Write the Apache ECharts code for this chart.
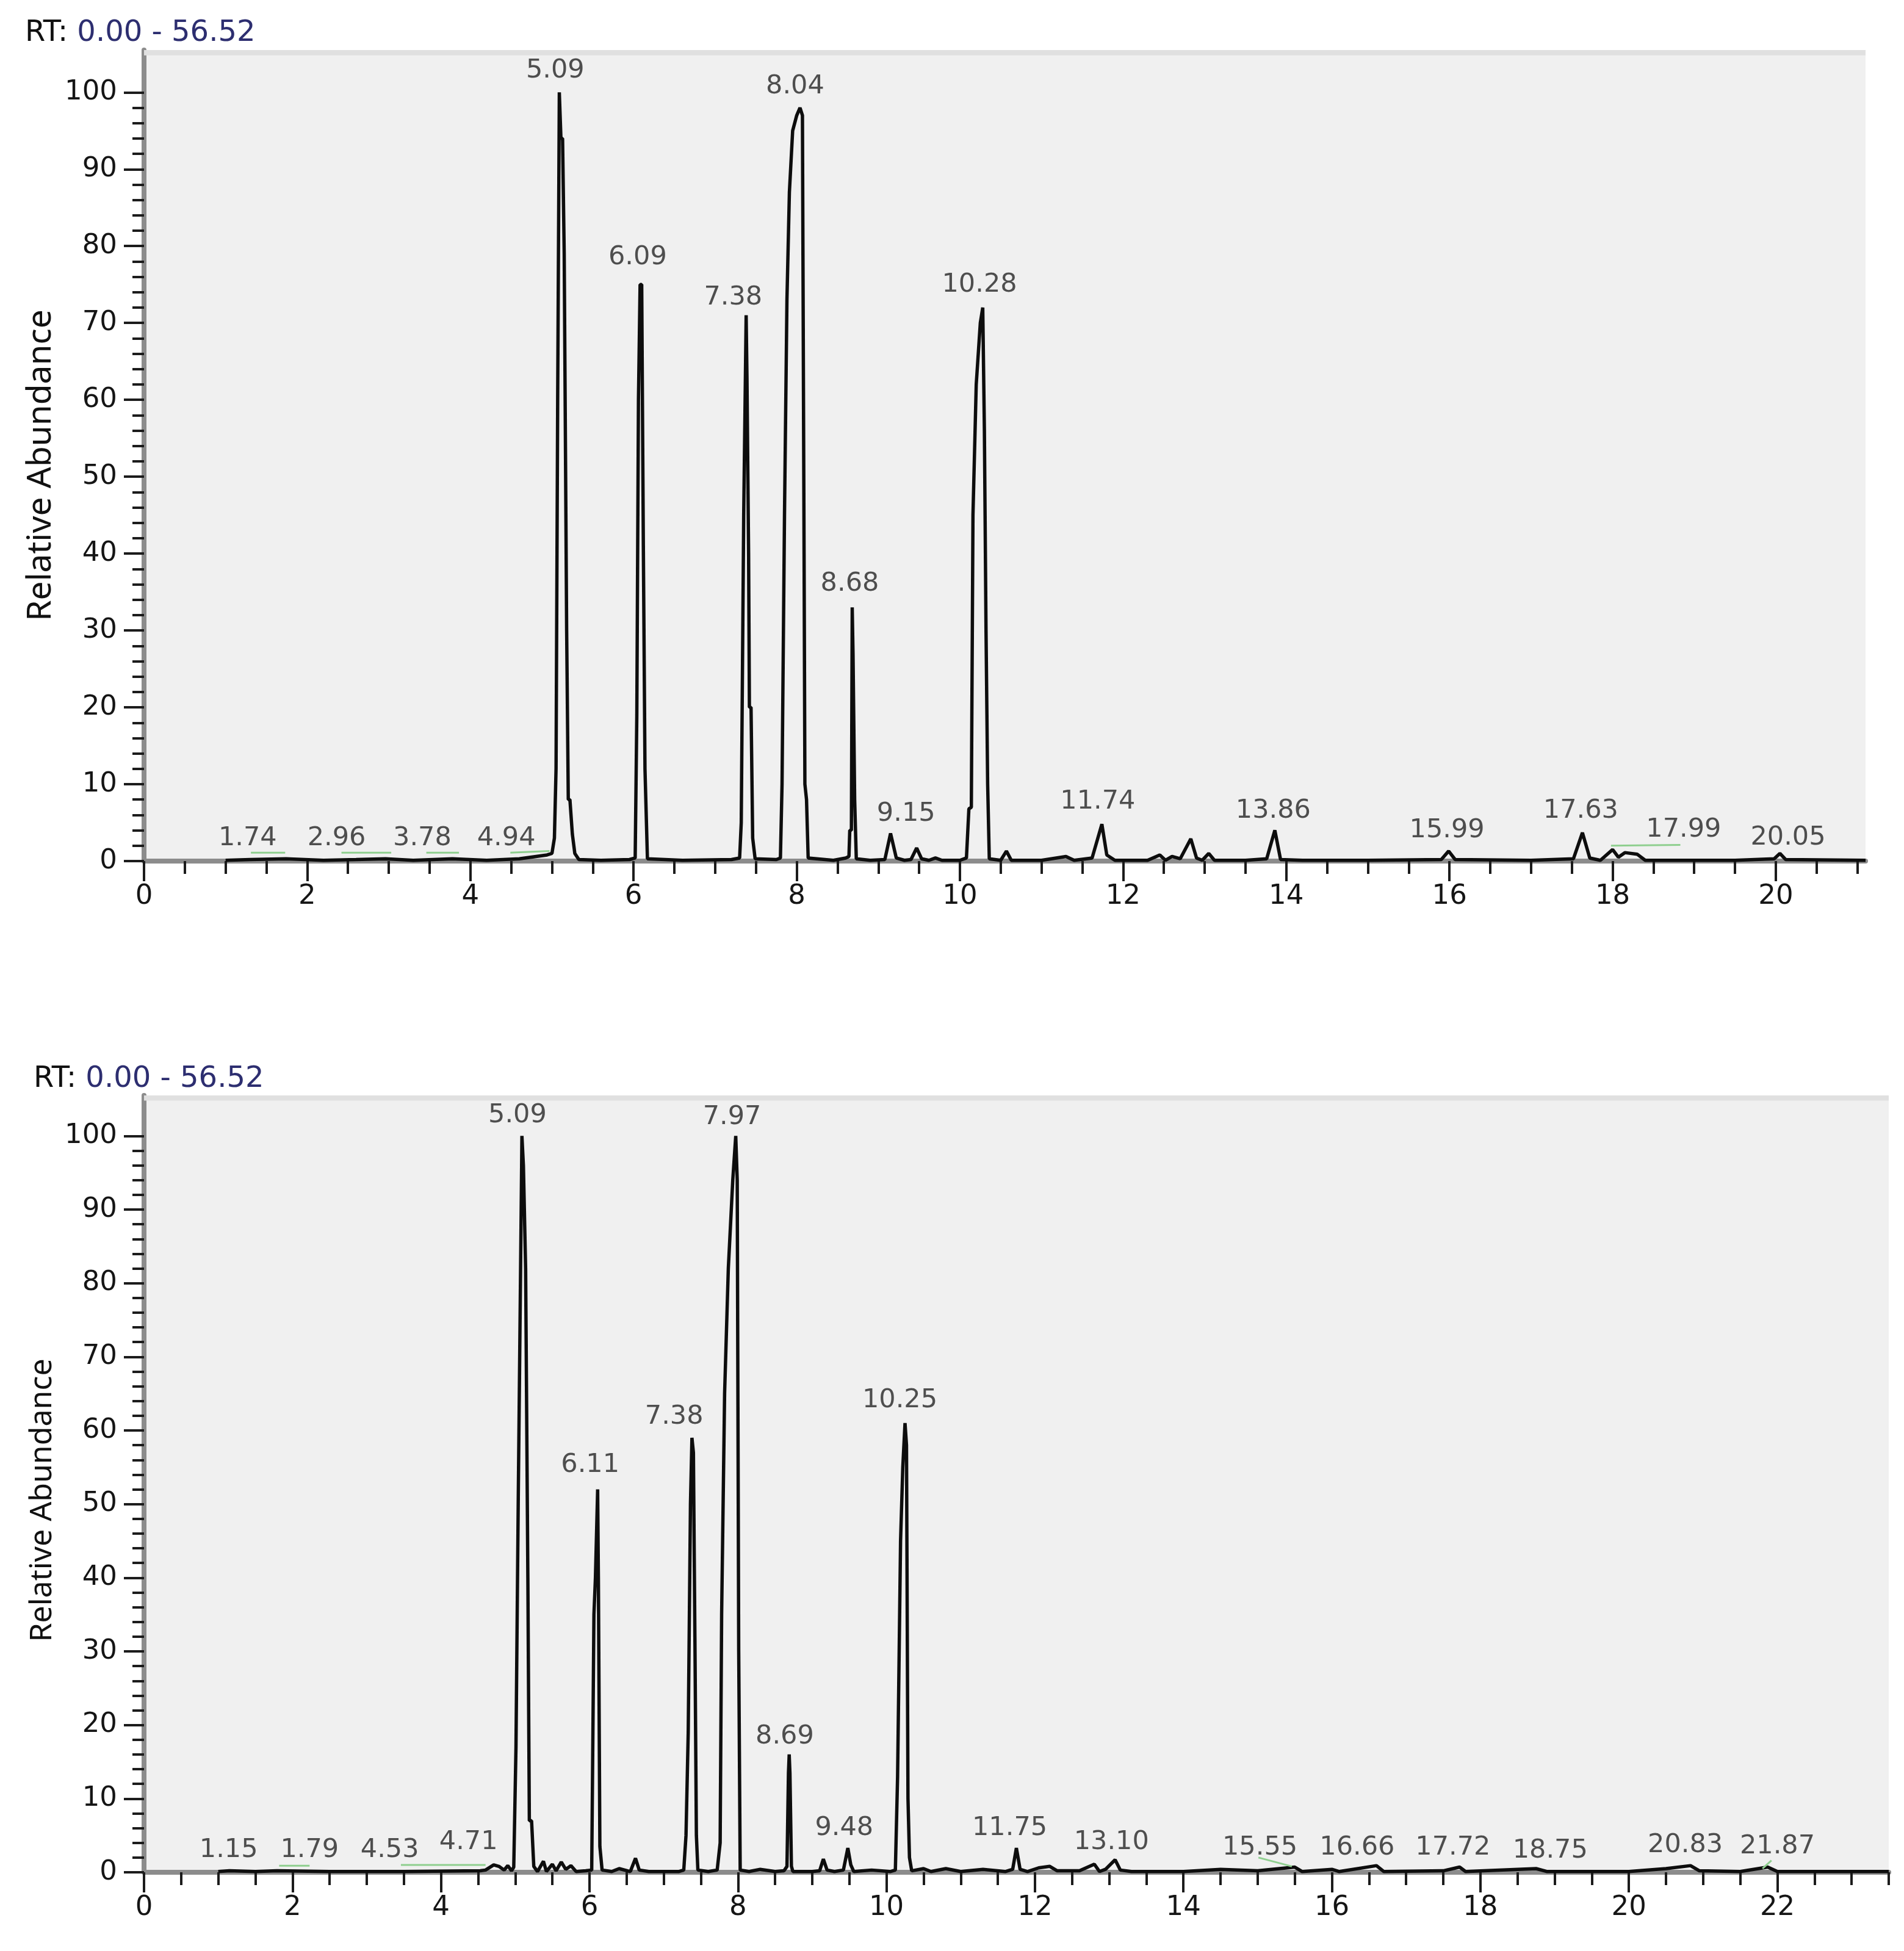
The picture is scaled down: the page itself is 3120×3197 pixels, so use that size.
<!DOCTYPE html>
<html>
<head>
<meta charset="utf-8">
<script src="https://cdn.jsdelivr.net/npm/echarts@6/dist/echarts.min.js"></script>
<style>
html,body{margin:0;padding:0;background:#ffffff;}
#chart{width:3120px;height:3197px;}
</style>
</head>
<body>
<div id="chart"></div>
<script>
// ---------------- data ----------------
const rtLabel = 'RT:';
const rtRange = '0.00 - 56.52';
const yAxisTitle = 'Relative Abundance';

const yTickValues = [0, 10, 20, 30, 40, 50, 60, 70, 80, 90, 100];
const yMinorTickValues = [2,4,6,8,12,14,16,18,22,24,26,28,32,34,36,38,42,44,46,48,52,54,56,58,62,64,66,68,72,74,76,78,82,84,86,88,92,94,96,98];

const topXTickValues = [0, 2, 4, 6, 8, 10, 12, 14, 16, 18, 20];
const topXMinorTickValues = [0.5,1,1.5,2.5,3,3.5,4.5,5,5.5,6.5,7,7.5,8.5,9,9.5,10.5,11,11.5,12.5,13,13.5,14.5,15,15.5,16.5,17,17.5,18.5,19,19.5,20.5,21];
const bottomXTickValues = [0, 2, 4, 6, 8, 10, 12, 14, 16, 18, 20, 22];
const bottomXMinorTickValues = [0.5,1,1.5,2.5,3,3.5,4.5,5,5.5,6.5,7,7.5,8.5,9,9.5,10.5,11,11.5,12.5,13,13.5,14.5,15,15.5,16.5,17,17.5,18.5,19,19.5,20.5,21,21.5,22.5,23,23.5];

// chromatogram traces: [retention time (min), relative abundance (%)]
const topTrace = [
  [1.00,0.1],[1.30,0.2],[1.74,0.3],[2.20,0.1],[2.60,0.2],[2.96,0.3],[3.30,0.1],[3.78,0.3],[4.20,0.1],[4.60,0.3],[4.94,0.8],[5.00,1.0],
  [5.03,3],[5.05,12],[5.07,60],[5.09,100],[5.11,94],[5.13,94],[5.15,79],[5.18,30],[5.20,8],[5.22,8],[5.25,3.5],[5.28,1.0],[5.33,0.2],
  [5.60,0.1],[5.95,0.2],
  [6.02,0.4],[6.04,19],[6.06,60],[6.08,75],[6.10,75],[6.12,41],[6.14,12],[6.17,0.3],
  [6.60,0.1],[7.20,0.2],
  [7.30,0.4],[7.32,5],[7.35,45],[7.38,71],[7.39,63],[7.41,40],[7.42,20],[7.44,20],[7.46,3],[7.49,0.3],
  [7.75,0.2],
  [7.80,0.4],[7.82,10],[7.85,45],[7.88,73],[7.91,87],[7.95,95],[8.00,97],[8.04,98],[8.07,97],[8.09,40],[8.10,10],[8.12,8],[8.14,0.4],
  [8.45,0.1],[8.60,0.4],
  [8.64,0.6],[8.65,4],[8.67,4],[8.68,33],[8.69,27],[8.71,8],[8.73,0.3],
  [8.90,0.1],[9.08,0.2],[9.15,3.6],[9.22,0.4],[9.32,0.1],[9.40,0.2],[9.47,1.7],[9.53,0.3],[9.62,0.1],[9.70,0.4],[9.78,0.1],
  [10.00,0.1],[10.08,0.4],
  [10.11,6.8],[10.14,7],[10.16,45],[10.20,62],[10.25,70],[10.28,72],[10.30,56],[10.32,30],[10.34,10],[10.36,0.3],
  [10.50,0.1],[10.57,1.3],[10.63,0.1],[11.00,0.1],[11.30,0.6],[11.40,0.1],[11.62,0.4],[11.74,4.8],[11.80,0.8],[11.90,0.1],[12.30,0.1],
  [12.45,0.8],[12.52,0.1],[12.60,0.6],[12.70,0.3],[12.83,2.9],[12.90,0.4],[12.97,0.1],[13.05,1.0],[13.12,0.1],[13.50,0.1],[13.76,0.3],[13.86,4.0],[13.93,0.2],
  [14.20,0.1],[15.00,0.1],[15.90,0.2],[15.99,1.3],[16.07,0.2],[17.00,0.1],[17.52,0.3],[17.63,3.7],[17.72,0.4],[17.85,0.1],
  [18.00,1.5],[18.07,0.5],[18.15,1.1],[18.30,0.9],[18.40,0.1],[19.50,0.1],[19.98,0.3],[20.05,1.0],[20.12,0.2],[21.10,0.1]
];

const bottomTrace = [
  [1.00,0.1],[1.15,0.2],[1.50,0.1],[1.79,0.2],[2.50,0.1],[3.50,0.1],[4.53,0.2],[4.60,0.3],[4.71,1.0],[4.78,0.8],[4.85,0.3],[4.90,0.9],[4.95,0.2],[4.98,0.7],
  [5.01,17],[5.04,50],[5.09,100],[5.11,96],[5.14,82],[5.17,40],[5.19,7],[5.22,7],[5.25,0.8],
  [5.30,0.1],[5.38,1.5],[5.42,0.1],[5.50,1.1],[5.55,0.2],[5.62,1.4],[5.68,0.4],[5.75,0.9],[5.82,0.1],[5.95,0.2],
  [6.03,0.3],[6.06,35],[6.08,40],[6.11,52],[6.12,40],[6.14,3.5],[6.17,0.3],
  [6.30,0.1],[6.40,0.5],[6.55,0.1],[6.62,1.9],[6.67,0.3],[6.80,0.1],[7.20,0.1],[7.27,0.3],
  [7.30,5],[7.33,19],[7.36,50],[7.38,59],[7.40,57],[7.42,32],[7.44,5],[7.46,0.3],
  [7.60,0.1],[7.72,0.3],
  [7.76,4],[7.78,35],[7.82,65],[7.87,82],[7.93,94],[7.97,100],[7.99,94],[8.01,30],[8.03,0.3],
  [8.15,0.1],[8.30,0.4],[8.50,0.1],[8.62,0.2],
  [8.66,0.8],[8.68,13.5],[8.69,16],[8.70,13.5],[8.72,0.8],[8.74,0.1],
  [9.00,0.1],[9.10,0.2],[9.15,1.8],[9.20,0.3],[9.30,0.1],[9.42,0.3],[9.48,3.3],[9.52,1.0],[9.56,0.1],[9.80,0.3],[10.05,0.1],[10.12,0.3],
  [10.15,13],[10.19,45],[10.22,55],[10.25,61],[10.27,58],[10.29,10],[10.31,2],[10.34,0.2],
  [10.50,0.5],[10.60,0.1],[10.80,0.5],[11.00,0.1],[11.30,0.4],[11.60,0.1],[11.70,0.4],[11.75,3.3],[11.80,0.4],[11.90,0.1],
  [12.05,0.6],[12.20,0.8],[12.30,0.2],[12.60,0.2],[12.80,1.1],[12.87,0.1],[12.95,0.4],[13.08,1.7],[13.15,0.3],[13.30,0.1],
  [14.00,0.1],[14.50,0.4],[15.00,0.2],[15.50,0.7],[15.60,0.1],[16.00,0.4],[16.10,0.1],[16.60,0.9],[16.70,0.1],[17.50,0.2],
  [17.72,0.7],[17.80,0.1],[18.75,0.5],[18.90,0.1],[20.00,0.1],[20.50,0.5],[20.83,0.9],[20.95,0.2],[21.50,0.1],[21.87,0.7],[22.00,0.1],[23.50,0.1]
];

// peak labels: [text, label centre (min), label foot (%)]
const topPeakLabels = [
  ['5.09',5.04,101.7],['8.04',7.98,99.6],['6.09',6.05,77.4],['7.38',7.22,72.1],['10.28',10.24,73.8],
  ['8.68',8.65,34.9],['9.15',9.34,5.0],['11.74',11.69,6.6],['13.86',13.84,5.4],['15.99',15.97,2.8],
  ['17.63',17.61,5.4],['17.99',18.87,2.9],['20.05',20.15,1.9],
  ['1.74',1.27,1.8],['2.96',2.36,1.8],['3.78',3.41,1.8],['4.94',4.44,1.8]
];
const bottomPeakLabels = [
  ['5.09',5.03,101.6],['7.97',7.92,101.3],['10.25',10.18,62.9],['7.38',7.14,60.6],['6.11',6.01,54.1],
  ['8.69',8.63,17.2],['9.48',9.43,4.8],['1.15',1.14,1.8],['1.79',2.23,1.8],['4.53',3.31,1.8],['4.71',4.37,2.9],
  ['11.75',11.66,4.8],['13.10',13.03,2.9],['15.55',15.03,2.1],['16.66',16.34,2.1],['17.72',17.63,2.1],
  ['18.75',18.94,1.7],['20.83',20.76,2.5],['21.87',22.00,2.3]
];

// green integration baselines
const topBaselines = [
  [[1.31,1.1],[1.73,1.1]], [[2.42,1.1],[3.03,1.1]], [[3.46,1.1],[3.86,1.1]], [[4.49,1.1],[4.97,1.3]], [[17.98,2.0],[18.83,2.1]]
];
const bottomBaselines = [
  [[1.82,0.9],[2.23,0.9]], [[3.46,1.0],[4.60,1.0]], [[15.01,2.0],[15.46,0.8]], [[21.80,0.5],[21.92,1.6]]
];

// ---------------- chart ----------------
const TICK_FONT = 'DejaVu Sans';
const chart = echarts.init(document.getElementById('chart'), null, {renderer: 'canvas'});

function mainX(gridIndex, max, ticks) {
  return {
    type: 'value', gridIndex, min: 0, max, position: 'bottom',
    axisLine: {show: true, onZero: false, lineStyle: {color: '#8c8c8c', width: 8}},
    axisTick: {show: true, customValues: ticks, length: 33, lineStyle: {color: '#1c1c1c', width: 4}},
    axisLabel: {show: true, customValues: ticks, margin: 36, fontFamily: TICK_FONT, fontSize: 45, color: '#151515'},
    splitLine: {show: false}
  };
}
function minorX(gridIndex, max, ticks) {
  return {
    type: 'value', gridIndex, min: 0, max, position: 'bottom', offset: 0,
    axisLine: {show: false, onZero: false},
    axisTick: {show: true, customValues: ticks, length: 21, lineStyle: {color: '#1c1c1c', width: 4}},
    axisLabel: {show: false},
    splitLine: {show: false}
  };
}
function mainY(gridIndex, nameSize, namePad) {
  return {
    type: 'value', gridIndex, min: 0, max: 105.5, position: 'left',
    name: yAxisTitle, nameLocation: 'middle', nameGap: 140,
    nameTextStyle: {fontFamily: 'Noto Sans', fontSize: nameSize, color: '#111', padding: namePad},
    axisLine: {show: true, onZero: false, lineStyle: {color: '#8c8c8c', width: 8}},
    axisTick: {show: true, customValues: yTickValues, length: 33, lineStyle: {color: '#1c1c1c', width: 4}},
    axisLabel: {show: true, customValues: yTickValues, margin: 44, fontFamily: TICK_FONT, fontSize: 45, color: '#151515'},
    splitLine: {show: false}
  };
}
function minorY(gridIndex) {
  return {
    type: 'value', gridIndex, min: 0, max: 105.5, position: 'left', offset: 0,
    axisLine: {show: false, onZero: false},
    axisTick: {show: true, customValues: yMinorTickValues, length: 19, lineStyle: {color: '#1c1c1c', width: 4}},
    axisLabel: {show: false},
    splitLine: {show: false}
  };
}

function traceSeries(data, xi, yi) {
  return {
    type: 'line', xAxisIndex: xi, yAxisIndex: yi, data,
    showSymbol: false, symbol: 'none', smooth: false,
    lineStyle: {color: '#0d0d0d', width: 5.5},
    z: 4, silent: true,
    markArea: {
      silent: true,
      itemStyle: {color: '#e0e0e0'},
      data: [[{yAxis: 104.8}, {yAxis: 105.5}]]
    }
  };
}
function baselineSeries(segs, xi, yi) {
  return segs.map(seg => ({
    type: 'line', xAxisIndex: xi, yAxisIndex: yi, data: seg,
    showSymbol: false, symbol: 'none', silent: true,
    lineStyle: {color: '#8fcf8f', width: 3}, z: 5
  }));
}
function labelSeries(labels, xi, yi) {
  return {
    type: 'scatter', xAxisIndex: xi, yAxisIndex: yi, symbolSize: 0, silent: true, z: 6,
    data: labels.map(([t, x, y]) => ({name: t, value: [x, y]})),
    label: {
      show: true, position: 'top', distance: -7, formatter: '{b}',
      fontFamily: TICK_FONT, fontSize: 43, color: '#262626'
    }
  };
}

function rtTitle(left, top) {
  return {
    left, top,
    text: '{a|' + rtLabel + ' }{b|' + rtRange + '}',
    textStyle: {
      fontFamily: TICK_FONT, fontSize: 48, fontWeight: 'normal',
      rich: {
        a: {fontFamily: TICK_FONT, fontSize: 48, fontWeight: 'normal', color: '#111'},
        b: {fontFamily: TICK_FONT, fontSize: 48, fontWeight: 'normal', color: '#2d2e70'}
      }
    }
  };
}

const option = {
  animation: false,
  backgroundColor: '#ffffff',
  title: [rtTitle(36, 26), rtTitle(50, 1740)],
  grid: [
    {left: 236, right: 63, top: 82, height: 1329, show: true, backgroundColor: '#f0f0f0', borderWidth: 0},
    {left: 236, right: 25, top: 1795, height: 1273, show: true, backgroundColor: '#f0f0f0', borderWidth: 0}
  ],
  xAxis: [
    mainX(0, 21.1, topXTickValues), minorX(0, 21.1, topXMinorTickValues),
    mainX(1, 23.5, bottomXTickValues), minorX(1, 23.5, bottomXMinorTickValues)
  ],
  yAxis: [
    mainY(0, 55, [0, 32, 0, 0]), minorY(0),
    mainY(1, 50, [0, 54, 0, 0]), minorY(1)
  ],
  series: [
    traceSeries(topTrace, 0, 0),
    ...baselineSeries(topBaselines, 0, 0),
    labelSeries(topPeakLabels, 0, 0),
    traceSeries(bottomTrace, 2, 2),
    ...baselineSeries(bottomBaselines, 2, 2),
    labelSeries(bottomPeakLabels, 2, 2)
  ]
};
chart.setOption(option);
</script>
</body>
</html>
